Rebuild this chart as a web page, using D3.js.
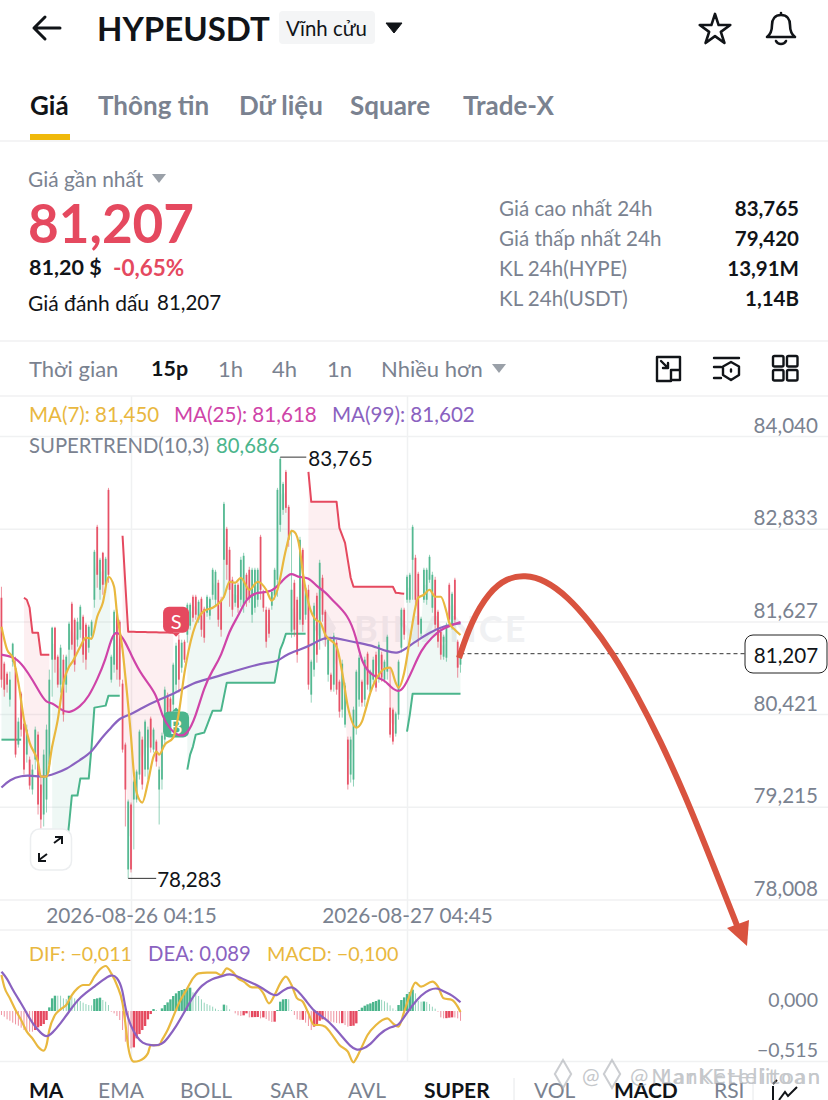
<!DOCTYPE html>
<html>
<head>
<meta charset="utf-8">
<style>
  html, body { margin: 0; padding: 0; background: #fff; }
  svg { display: block; }
  text { font-family: Lato, "Noto Sans", sans-serif; }
</style>
</head>
<body>
<svg id="chart" width="828" height="1100"></svg>
<script src="https://cdn.jsdelivr.net/npm/d3@7/dist/d3.min.js"></script>
<script>
// nen 15p, gia doc tu hinh
const highs = [82078,81103,80973,80973,81350,81168,80375,80713,80349,80284,79868,79764,80258,80193,79595,79959,80284,80999,81558,81558,81194,81324,81194,81194,81623,81883,81675,81675,81844,81714,81610,81584,81649,82559,82884,82455,82533,82468,83365,81194,81779,81779,81649,80869,80050,79309,79270,79569,79699,80219,80128,80349,80258,80388,80245,80089,79738,80180,80778,80700,80648,81090,81350,81454,81389,81389,81870,81870,81974,81974,81909,81948,81818,81974,81948,82325,82299,82169,81948,83183,82858,82598,82208,82143,82130,82468,82520,82260,82338,82325,82325,82325,82754,82039,81818,81805,82039,82325,83365,83765,83443,83599,83144,82819,82169,81948,82728,82585,82104,82104,81129,81870,82000,82429,82234,81779,81428,80960,81480,81389,80869,81129,80830,80128,80128,80518,80999,81194,80869,81168,81233,80999,81168,81233,81363,81233,81129,81454,81025,80505,80453,81129,81805,81805,82234,82260,82884,82494,82273,81688,82325,82325,82494,82273,82208,81779,81519,81454,81610,82130,82013,82195,81389,81324];
const lows = [80765,80648,80700,80518,81038,79855,79985,80128,79634,79790,79439,79374,79699,79114,78880,78958,79140,79660,80648,80960,80765,80700,80323,80700,81025,81259,80973,81298,81415,81090,80999,81220,81389,81805,82065,81909,81974,82000,82130,80830,80960,80869,80778,79920,78958,78283,78360,78659,79270,79569,79439,79608,79569,79920,79920,79738,78984,79439,79998,80310,80349,80440,80700,80700,80960,81090,81350,81519,81623,81649,81610,81428,81350,81688,81649,81909,81818,81558,81428,81935,82169,81818,81688,81818,81740,81818,81740,81818,81870,81610,81740,81818,81909,81753,81285,81415,81779,81909,81948,82793,83014,83040,82598,81415,81428,81090,81584,81493,81649,80739,80570,80908,81090,81259,81623,81298,80843,80713,80713,80674,80375,80375,80245,79439,79530,79478,80154,80518,80518,80518,80739,80674,80830,80713,80830,80843,80830,80869,80115,80024,80128,80349,81220,81389,81870,81870,81909,81818,81298,81428,81870,81844,82130,81740,81519,81285,81129,81129,81103,81610,81519,81610,80895,80960];
const opens = [81935,81077,80947,80609,81103,81019,80024,80687,80297,79894,79829,79439,79829,80154,79504,79114,79309,79764,81129,81545,81168,80804,81129,80804,81259,81857,81649,81389,81519,81688,81584,81285,81441,81909,82858,82039,82520,82104,83339,80869,81064,81740,81623,80817,80024,78399,79244,79309,79309,79634,80089,79699,79699,80362,79959,80063,79439,79569,80089,80661,80622,80544,80804,81389,81025,81363,81454,81571,81948,81948,81649,81922,81792,81740,81701,81974,81909,82130,81909,82429,82832,82559,82169,81870,82104,81909,81844,82234,82299,81714,81805,81909,82728,82013,81779,81779,81831,81961,82169,82884,83079,83573,83118,81493,82130,81909,81649,82559,81714,82039,80674,80999,81961,81389,82195,81753,80934,80934,80804,81350,80843,80479,80284,80089,79634,79569,80245,80609,80843,80609,81207,80713,80869,81194,80895,81194,80869,80973,80505,80479,80167,80414,81285,81779,81909,81909,82429,82455,82247,81467,81909,81909,82169,81805,82169,81753,81493,81168,81155,82104,81571,82169,81363,81064];
const closes = [80869,80739,80804,80869,81337,79894,80323,80219,79699,80219,79491,79699,80219,79244,79049,79894,80219,80869,81545,81129,80804,81285,80414,81168,81597,81324,81064,81623,81818,81194,81129,81558,81623,82533,82234,82429,82104,82442,82234,81168,81753,80999,80869,79959,79439,79283,78399,79543,79673,80193,79504,80323,80219,79985,80219,79803,79699,80141,80739,80375,80401,81064,81311,80869,81350,81129,81844,81844,81675,81714,81883,81519,81415,81948,81922,82299,82273,81649,81519,83157,82364,82039,81779,82104,81805,82429,82481,81909,81935,82299,82299,82299,82039,81805,81363,81467,82013,82299,83339,83742,83417,83105,82689,82039,81519,81194,82689,81584,82065,80804,81103,81831,81194,82390,81714,81389,81389,80739,81441,80739,80453,81077,80791,79504,80089,80479,80973,81155,80570,81129,80804,80973,81129,80765,81324,80895,81103,81428,80154,80063,80427,81103,81779,81454,82208,82234,82858,81909,81584,81662,82299,82299,82468,82234,81584,81363,81194,81428,81584,81649,81987,81649,81025,81207];

// duong MA, doc theo tung diem nen
const ma7Idx = [0,2,4,6,8,10,13,14,16,18,20,22,24,25,28,30,32,34,36,38,40,41,43,44,46,47,48,50,52,54,55,56,58,61,63,65,68,70,72,75,77,79,81,83,85,88,91,94,96,98,101,103,104,106,107,109,112,113,115,119,121,123,126,128,129,131,134,136,138,140,141,143,145,148,150,152,154,156,158,159,161,163];
const ma7Vals = [81558,81259,81155,80830,80349,80050,79790,79608,79608,79998,80349,80830,81038,81090,81298,81415,81402,81688,81870,82208,82078,81740,81259,80908,80128,79660,79400,79270,79530,79868,79933,79894,80024,80115,80440,80960,81480,81675,81766,81805,81857,81948,82143,82130,82195,82039,82143,82039,81896,82039,82559,82806,82793,82559,82260,81870,81636,81623,81454,81298,80960,80518,80245,80323,80440,80700,80934,81012,81025,80830,80765,80960,81389,81935,81974,82039,81948,81948,81753,81610,81519,81450];
const ma25Idx = [0,2,5,8,11,14,16,18,21,24,28,31,34,37,39,41,44,46,50,55,57,60,63,66,69,72,75,78,81,84,87,91,96,100,103,105,109,112,115,118,123,126,128,132,136,138,141,143,146,149,153,156,160,163];
const ma25Vals = [81194,81181,81155,81038,80869,80674,80570,80570,80479,80427,80518,80648,80869,81129,81415,81519,81363,81194,80908,80700,80388,80219,80128,80154,80388,80778,80999,81168,81519,81688,81935,82013,82000,82169,82273,82195,82208,82078,82013,81883,81714,81428,81064,80908,80869,80778,80700,80765,80999,81259,81428,81519,81584,81618];
const ma99Idx = [0,3,7,11,15,19,23,28,32,35,39,42,46,50,56,62,68,74,81,88,94,98,101,106,111,114,119,124,131,137,141,144,148,152,157,163];
const ma99Vals = [79465,79569,79621,79621,79595,79647,79699,79829,79920,80089,80245,80375,80414,80505,80609,80700,80830,80882,80960,81038,81090,81103,81194,81259,81337,81415,81415,81363,81324,81233,81207,81285,81389,81480,81571,81602];

// SUPERTREND tung doan, xanh la ho tro, do la khang cu
const stSegments = [
  { side: "up",   idx: [0,7],                                  vals: [80088,80088] },
  { side: "down", idx: [8,9,10,11,13,14,17],                   vals: [81935,81909,81805,81480,81480,81194,81194] },
  { side: "up",   idx: [18,23,24,25,27,28,31,32,33,37,38,42],  vals: [78503,78659,78984,79361,79361,79582,79582,79998,80505,80531,80661,80661] },
  { side: "down", idx: [43,44,45,61],                          vals: [82741,82104,81493,81480] },
  { side: "up",   idx: [66,67,68,69,72,75,78,80,97,98,99,100,101,108], vals: [79699,79894,79998,80154,80180,80466,80466,80830,80830,81038,81259,81350,81467,81467] },
  { side: "down", idx: [109,110,119,120,122,124,125,139,140,143], vals: [83573,83183,83183,82845,82650,82195,82078,82078,82000,81987] },
  { side: "up",   idx: [144,145,146,163],                      vals: [80193,80414,80687,80686] }
];

// MACD
const histVals = [-.041,-.058,-.085,-.099,-.119,-.136,-.150,-.170,-.194,-.204,-.211,-.211,-.194,-.167,-.153,-.133,-.092,.037,.129,.156,.156,.156,.129,.122,.156,.146,.129,.119,.102,.085,.071,.061,.058,.122,.129,.136,.112,.095,.061,-.007,-.024,-.051,-.092,-.194,-.313,-.347,-.381,-.371,-.279,-.235,-.194,-.153,-.085,-.031,.020,.010,.000,.027,.061,.088,.119,.153,.180,.204,.214,.224,.235,.238,.190,.170,.153,.119,.085,.071,.058,.044,.024,.010,.007,.065,.058,.017,.000,-.024,-.044,-.051,-.044,-.024,-.065,-.063,-.062,-.061,-.075,-.065,-.082,-.099,-.112,-.109,.010,.095,.119,.122,.120,.010,-.041,-.085,-.092,-.090,-.119,-.153,-.194,-.160,-.136,-.099,-.085,-.092,-.102,-.109,-.116,-.122,-.126,-.124,-.143,-.160,-.153,-.150,-.126,.010,.034,.054,.068,.078,.092,.102,.116,.114,.099,.085,.058,.027,.007,.061,.112,.139,.173,.194,.218,.180,.105,.095,.097,.093,.071,.044,.024,-.007,-.065,-.075,-.073,-.068,-.065,-.066,-.075,-.100];
const difIdx = [0,1,3,5,7,9,11,13,15,16,17,19,21,23,25,27,29,31,33,35,37,39,41,43,44,45,46,47,49,52,53,56,57,59,61,63,66,68,70,73,76,78,80,82,84,86,89,91,93,95,97,99,101,103,105,107,109,111,113,115,117,120,123,125,126,128,130,133,137,139,141,143,145,147,149,153,155,157,160,162,163];
const difVals = [.367,.248,.129,.010,-.092,-.211,-.279,-.364,-.405,-.347,-.194,-.041,.017,.061,.163,.231,.265,.265,.350,.425,.459,.384,.265,.078,-.126,-.364,-.483,-.517,-.507,-.432,-.347,-.347,-.296,-.194,-.058,.078,.231,.333,.384,.391,.391,.367,.435,.401,.333,.299,.241,.241,.180,.078,.163,.282,.350,.265,.129,.095,-.024,-.143,-.143,-.160,-.228,-.347,-.415,-.524,-.483,-.364,-.245,-.143,-.075,-.126,-.160,-.007,.163,.289,.248,.299,.248,.129,.112,.044,-.011];
const deaIdx = [0,2,4,7,9,11,14,16,18,21,24,27,30,33,36,39,41,43,44,46,48,50,53,57,59,62,65,68,71,75,78,81,84,88,92,96,98,100,103,105,108,111,115,118,121,124,126,128,131,134,138,141,143,146,149,152,155,157,160,163];
const deaVals = [.401,.333,.214,.078,-.024,-.126,-.228,-.269,-.228,-.126,-.007,.112,.187,.248,.316,.374,.350,.231,.010,-.160,-.262,-.330,-.354,-.347,-.279,-.160,-.007,.146,.265,.333,.350,.384,.350,.299,.248,.163,.156,.214,.255,.214,.112,-.007,-.075,-.160,-.262,-.364,-.398,-.391,-.347,-.235,-.160,-.153,-.058,.061,.163,.221,.238,.197,.163,.089];

// truc va chu
const priceTicks = [84040,82833,81627,80421,79215,78008];
const macdTicks = [0,-0.515];
const timeIdx = [46,144];
const timeLabels = ["2026-08-26 04:15","2026-08-27 04:45"];
const lastPrice = 81207;
const signals = [{ kind: "S", i: 62, price: 81649 }, { kind: "B", i: 62, price: 80284 }];
const tabs = ["Giá","Thông tin","Dữ liệu","Square","Trade-X"];
const tabX = [30,98,239,350,463];
const statNames = ["Giá cao nhất 24h","Giá thấp nhất 24h","KL 24h(HYPE)","KL 24h(USDT)"];
const statVals = ["83,765","79,420","13,91M","1,14B"];
const ranges = ["Thời gian","15p","1h","4h","1n","Nhiều hơn"];
const rangeX = [29,151,218,272,327,381];
const indic = ["MA","EMA","BOLL","SAR","AVL","SUPER","VOL","MACD","RSI"];
const indicX = [29,98,180,270,348,424,534,614,714];
const indicOn = ["MA","SUPER","MACD"];

const GREEN = "#4bb58c", RED = "#e5495f", GREY = "#7a8290", INK = "#111418";
const YEL = "#e9b83f", MAG = "#cf44a8", PUR = "#8a62c0", GRID = "#f0f1f2";

const svg = d3.select("#chart");

// ham ve chu cho gon
function label(sel, x, y, str, size, fill, weight, anchor) {
  return sel.append("text")
    .attr("x", x).attr("y", y)
    .attr("dominant-baseline", "central")
    .attr("font-size", size)
    .attr("font-weight", weight || 400)
    .attr("fill", fill)
    .attr("text-anchor", anchor || "start")
    .text(str);
}

/* HEADER */
const head = svg.append("g");
head.append("path").attr("d", "M60 28H34M45 17L34 28L45 39")
  .attr("fill", "none").attr("stroke", INK).attr("stroke-width", 3).attr("stroke-linecap", "round").attr("stroke-linejoin", "round");
label(head, 97, 28, "HYPEUSDT", 33, INK, 700);
head.append("rect").attr("x", 279).attr("y", 11).attr("width", 96).attr("height", 33).attr("rx", 4).attr("fill", "#f4f5f6");
label(head, 286, 28, "Vĩnh cửu", 20.4, INK, 400);
head.append("path").attr("d", "M386 23H402L394 33Z").attr("fill", INK).attr("stroke", INK).attr("stroke-linejoin", "round");
head.append("path").attr("d", d3.symbol().type(d3.symbolStar).size(290)).attr("transform", "translate(715,30)")
  .attr("fill", "none").attr("stroke", INK).attr("stroke-width", 2.6).attr("stroke-linejoin", "round");
head.append("path").attr("d", "M767 37C771 34 772 30 772 25C772 19 775 15 781 15C787 15 790 19 790 25C790 30 791 34 795 37ZM776 41C778 45 784 45 786 41M781 15V13")
  .attr("fill", "none").attr("stroke", INK).attr("stroke-width", 2.6).attr("stroke-linejoin", "round").attr("stroke-linecap", "round");

tabs.forEach((t, k) => label(head, tabX[k], 105, t, 26, k === 0 ? INK : GREY, 700));
head.append("rect").attr("x", 30).attr("y", 134).attr("width", 40).attr("height", 6).attr("fill", "#f0b90b");
[141, 341, 396].forEach(y => head.append("line").attr("x1", 0).attr("x2", 828).attr("y1", y).attr("y2", y).attr("stroke", GRID).attr("stroke-width", 1.5));

/* TOM TAT GIA */
const info = svg.append("g");
label(info, 28, 178, "Giá gần nhất", 20.9, GREY);
info.append("path").attr("d", "M152 174H166L159 183Z").attr("fill", "#9aa0a8");
label(info, 28, 222, "81,207", 53, RED, 700);
label(info, 29, 267, "81,20 $", 21.5, INK, 700);
label(info, 113, 267, "-0,65%", 22.5, RED, 700);
label(info, 28, 302, "Giá đánh dấu", 21, INK);
label(info, 157, 302, "81,207", 20.5, INK);
statNames.forEach((s, k) => {
  label(info, 499, 208 + k * 30, s, 20.6, GREY);
  label(info, 799, 208 + k * 30, statVals[k], 20.5, INK, 700, "end");
});

/* THANH CHON KHUNG */
const bar = svg.append("g");
ranges.forEach((r, k) => label(bar, rangeX[k], 368, r, r === "15p" ? 21.5 : 22, r === "15p" ? INK : GREY, r === "15p" ? 700 : 400));
bar.append("path").attr("d", "M492 364H506L499 373Z").attr("fill", "#9aa0a8");
const iconStyle = g => g.attr("fill", "none").attr("stroke", INK).attr("stroke-width", 2.4).attr("stroke-linejoin", "round").attr("stroke-linecap", "round");
bar.append("path").call(iconStyle)
  .attr("d", "M671 381H657V357H680V370M661 361L668 368M668 363V368H663M671 370H680V380H671Z");
bar.append("path").call(iconStyle)
  .attr("d", "M714 358H739M714 367H721M714 378H721M731 362L739 366.5V375L731 380L723 375V366.5ZM731 369.5V371.5");
[[773,356],[787,356],[773,370],[787,370]].forEach(p => bar.append("rect").call(iconStyle)
  .attr("x", p[0]).attr("y", p[1]).attr("width", 10.5).attr("height", 10.5).attr("rx", 1.5));

/* SCALE */
const x = d3.scaleLinear().domain([46, 144]).range([131, 407]);
const yP = d3.scaleLinear().domain([84040, 78008]).range([436, 899.5]);
const yM = d3.scaleLinear().domain([0, -0.515]).range([1011, 1061.5]);

/* TRUC + LUOI */
const priceAxis = d3.axisLeft(yP).tickValues(priceTicks).tickSize(828).tickFormat(d3.format(","));
svg.append("g").attr("transform", "translate(828,0)").call(priceAxis).call(g => {
  g.select(".domain").remove();
  g.selectAll("line").attr("stroke", GRID).attr("stroke-width", 1.5);
  g.selectAll("text").attr("x", -10).attr("dy", -4).attr("font-size", 20.6).attr("fill", GREY).attr("font-family", "Lato");
});
const macdFmt = v => d3.format(".3f")(v).replace(".", ",");
const macdAxis = d3.axisLeft(yM).tickValues(macdTicks).tickSize(0).tickFormat(macdFmt);
svg.append("g").attr("transform", "translate(828,0)").call(macdAxis).call(g => {
  g.select(".domain").remove();
  g.selectAll("text").attr("x", -10).attr("dy", -5).attr("font-size", 19.5).attr("fill", GREY).attr("font-family", "Lato");
});
svg.append("line").attr("x1", 0).attr("x2", 828).attr("y1", 930).attr("y2", 930).attr("stroke", GRID).attr("stroke-width", 1.5);
svg.append("line").attr("x1", 0).attr("x2", 828).attr("y1", yM(-0.515)).attr("y2", yM(-0.515)).attr("stroke", GRID).attr("stroke-width", 1.5);

const timeAxis = d3.axisTop(x).tickValues(timeIdx).tickSize(665).tickFormat((d, k) => timeLabels[k]);
svg.append("g").attr("transform", "translate(0,1061)").call(timeAxis).call(g => {
  g.select(".domain").remove();
  g.selectAll("line").attr("stroke", GRID).attr("stroke-width", 1.5);
  g.selectAll("text").attr("y", -138).attr("dy", 0).attr("font-size", 20.8).attr("fill", GREY).attr("font-family", "Lato");
});

/* WATERMARK */
const wm = svg.append("g").attr("fill", "#f0f1f3");
wm.append("path").attr("d", d3.symbol().type(d3.symbolDiamond).size(420)).attr("transform", "translate(325,628)");
label(wm, 354, 628, "BINANCE", 36, "#f0f1f3", 700).attr("letter-spacing", 2);

/* SUPERTREND: to mau giua duong va than nen roi ve duong */
const mid = i => (opens[i] + closes[i]) / 2;
stSegments.forEach(seg => {
  const st = d3.scaleLinear().domain(seg.idx).range(seg.vals);
  const first = seg.idx[0], last = seg.idx[seg.idx.length - 1];
  const band = d3.range(first, last + 1);
  const color = seg.side === "up" ? GREEN : RED;
  svg.append("path").datum(band)
    .attr("fill", color).attr("fill-opacity", 0.09)
    .attr("d", d3.area().x(i => x(i)).y0(i => yP(st(i))).y1(i => yP(mid(i))));
  svg.append("path").datum(band)
    .attr("fill", "none").attr("stroke", color).attr("stroke-width", 2).attr("stroke-linejoin", "round")
    .attr("d", d3.line().x(i => x(i)).y(i => yP(st(i))));
});

/* NEN */
const candles = svg.append("g").selectAll("g").data(d3.range(highs.length)).join("g")
  .attr("fill", i => closes[i] >= opens[i] ? GREEN : RED)
  .attr("stroke", i => closes[i] >= opens[i] ? GREEN : RED);
candles.append("line")
  .attr("x1", i => x(i)).attr("x2", i => x(i))
  .attr("y1", i => yP(highs[i])).attr("y2", i => yP(lows[i]))
  .attr("stroke-width", 1).attr("stroke-opacity", 0.6);
candles.append("rect")
  .attr("x", i => x(i) - 0.9).attr("width", 1.8)
  .attr("y", i => yP(Math.max(opens[i], closes[i])))
  .attr("height", i => Math.abs(yP(opens[i]) - yP(closes[i])))
  .attr("fill-opacity", 0.9)
  .attr("stroke", "none");

/* NHAN S / B */
signals.forEach(s => {
  const g = svg.append("g").attr("transform", `translate(${x(s.i)},${yP(s.price)})`);
  const col = s.kind === "S" ? RED : GREEN;
  g.append("rect").attr("x", -13).attr("y", -13).attr("width", 26).attr("height", 26).attr("rx", 6).attr("fill", col);
  if (s.kind === "S") g.append("path").attr("d", "M-4 13H4L0 17Z").attr("fill", col);
  else g.append("path").attr("d", "M-4 -13H4L0 -17Z").attr("fill", col);
  label(g, 0, 1, s.kind, 20, "#fff", 400, "middle");
});

/* MA */
function drawLine(idx, vals, yScale, color, w, curve) {
  svg.append("path").datum(idx.map((d, k) => [d, vals[k]]))
    .attr("fill", "none").attr("stroke", color).attr("stroke-width", w).attr("stroke-linejoin", "round")
    .attr("d", d3.line().x(d => x(d[0])).y(d => yScale(d[1])).curve(curve));
}
drawLine(ma99Idx, ma99Vals, yP, PUR, 2.2, d3.curveBasis);
drawLine(ma25Idx, ma25Vals, yP, MAG, 2.2, d3.curveBasis);
drawLine(ma7Idx, ma7Vals, yP, YEL, 2.2, d3.curveMonotoneX);

/* GIAI THICH GIA CAO / THAP */
const hiIdx = highs.indexOf(d3.max(highs)), loIdx = lows.indexOf(d3.min(lows));
svg.append("line").attr("x1", x(hiIdx)).attr("x2", x(hiIdx) + 26).attr("y1", yP(highs[hiIdx])).attr("y2", yP(highs[hiIdx])).attr("stroke", "#333");
label(svg, x(hiIdx) + 28, yP(highs[hiIdx]) + 1, d3.format(",")(highs[hiIdx]), 20.6, INK);
svg.append("line").attr("x1", x(loIdx)).attr("x2", x(loIdx) + 28).attr("y1", yP(lows[loIdx])).attr("y2", yP(lows[loIdx])).attr("stroke", "#333");
label(svg, x(loIdx) + 29, yP(lows[loIdx]) + 1, d3.format(",")(lows[loIdx]), 20.6, INK);

/* CHU CHU GIAI */
label(svg, 29, 414, "MA(7): 81,450", 20.5, YEL);
label(svg, 174, 414, "MA(25): 81,618", 20.6, MAG);
label(svg, 332, 414, "MA(99): 81,602", 20.6, PUR);
label(svg, 29, 445, "SUPERTREND(10,3)", 20.3, GREY);
label(svg, 216, 445, "80,686", 20.3, GREEN);
label(svg, 29, 953, "DIF: −0,011", 19.7, YEL);
label(svg, 148, 953, "DEA: 0,089", 20.3, PUR);
label(svg, 267, 953, "MACD: −0,100", 19.8, YEL);

/* NUT PHONG TO */
const expand = svg.append("g");
expand.append("rect").attr("x", 30.5).attr("y", 829).attr("width", 41).attr("height", 41).attr("rx", 9)
  .attr("fill", "#fff").attr("stroke", "#eceef0").attr("stroke-width", 1.5);
expand.append("path").attr("d", "M54 843L62 837M55 837H62V844M47 854L39 860M39 853V861H46")
  .attr("fill", "none").attr("stroke", INK).attr("stroke-width", 2);

/* MACD */
const macdG = svg.append("g");
histVals.forEach((v, i) => {
  const rising = i === 0 ? false : v > histVals[i - 1];
  macdG.append("rect")
    .attr("x", x(i) - (rising ? 1.2 : 0.5))
    .attr("width", rising ? 2.4 : 1)
    .attr("y", Math.min(yM(v), yM(0)))
    .attr("height", Math.abs(yM(v) - yM(0)))
    .attr("fill", v >= 0 ? GREEN : RED)
    .attr("fill-opacity", rising ? 1 : 0.6);
});
drawLine(difIdx, difVals, yM, YEL, 2.2, d3.curveMonotoneX);
drawLine(deaIdx, deaVals, yM, PUR, 2.2, d3.curveBasis);

/* GIA HIEN TAI */
svg.append("line").attr("x1", x(163)).attr("x2", 745).attr("y1", yP(lastPrice)).attr("y2", yP(lastPrice))
  .attr("stroke", "#333").attr("stroke-dasharray", "4 3").attr("stroke-width", 1);
svg.append("rect").attr("x", 745).attr("y", 635).attr("width", 82).attr("height", 38).attr("rx", 8)
  .attr("fill", "#fff").attr("stroke", "#222").attr("stroke-width", 1);
label(svg, 786, 655, d3.format(",")(lastPrice), 20.6, INK, 400, "middle");

/* MUI TEN DO VE TAY */
const ARROW = "#d9533f";
const arrowPts = [[459,658],[471,622],[489,592],[507,578],[525,575],[545,580],[568,597],[590,622],[612,652],[637,695],[660,740],[685,795],[710,857],[738,928]];
svg.append("path").attr("d", d3.line().curve(d3.curveBasis)(arrowPts))
  .attr("fill", "none").attr("stroke", ARROW).attr("stroke-width", 6).attr("stroke-linecap", "butt");
svg.append("path").attr("d", "M727 928L749 920L747 946Z").attr("fill", ARROW);

/* TAB DUOI */
const foot = svg.append("g");
indic.forEach((t, k) => {
  const on = indicOn.includes(t);
  label(foot, indicX[k], 1089, t, 21, on ? INK : GREY, on ? 700 : 400);
});
[514, 753].forEach(px => foot.append("line").attr("x1", px).attr("x2", px).attr("y1", 1078).attr("y2", 1100).attr("stroke", "#e6e8ea"));
foot.append("path").attr("d", "M773 1086V1100M779 1100L785 1092L788 1096L797 1087M773 1084L777 1080")
  .attr("fill", "none").attr("stroke", INK).attr("stroke-width", 2);

/* WATERMARK ANH */
const mark = svg.append("g").attr("opacity", 0.6);
[563, 612].forEach(px => mark.append("path").attr("d", d3.symbol().type(d3.symbolDiamond).size(230)).attr("transform", `translate(${px},1074)`).attr("fill", "none").attr("stroke", "#a9adb3").attr("stroke-width", 2));
label(mark, 582, 1075, "@", 21, "#a0a4aa");
label(mark, 630, 1075, "@MarkEtelitoan", 22, "#a0a4aa").attr("textLength", 190);
label(mark, 660, 1075, "LanKeHelitoan", 22, "#a0a4aa").attr("textLength", 160);
</script>
</body>
</html>
